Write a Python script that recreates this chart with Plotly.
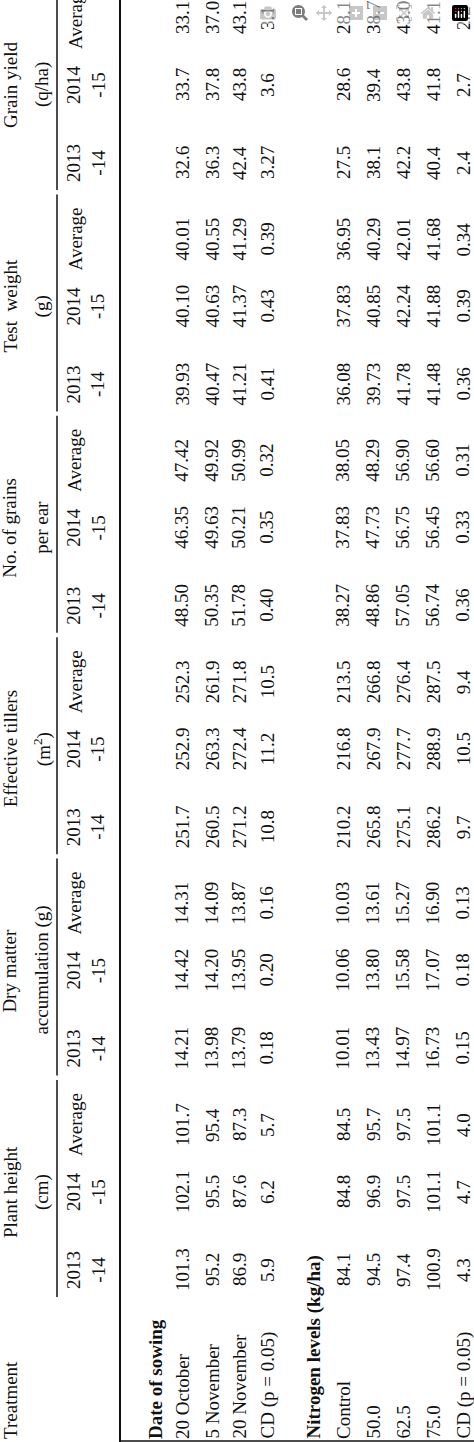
import plotly.graph_objects as go

W, H = 474, 1442

treatments = ["20 October", "5 November", "20 November", "CD (p = 0.05)",
              "Control", "50.0", "62.5", "75.0", "CD (p = 0.05)"]
sections = ["Date of sowing", "Nitrogen levels (kg/ha)"]
years = ["2013<br>-14", "2014<br>-15", "Average"]

group_titles = ["Plant height", "Dry matter", "Effective tillers",
                "No. of grains", "Test  weight", "Grain yield"]
group_units = ["(cm)", "accumulation (g)", "(m<sup>2</sup>)",
               "per ear", "(g)", "(q/ha)"]

plant_height = [
    ["101.3", "95.2", "86.9", "5.9", "84.1", "94.5", "97.4", "100.9", "4.3"],
    ["102.1", "95.5", "87.6", "6.2", "84.8", "96.9", "97.5", "101.1", "4.7"],
    ["101.7", "95.4", "87.3", "5.7", "84.5", "95.7", "97.5", "101.1", "4.0"],
]
dry_matter = [
    ["14.21", "13.98", "13.79", "0.18", "10.01", "13.43", "14.97", "16.73", "0.15"],
    ["14.42", "14.20", "13.95", "0.20", "10.06", "13.80", "15.58", "17.07", "0.18"],
    ["14.31", "14.09", "13.87", "0.16", "10.03", "13.61", "15.27", "16.90", "0.13"],
]
tillers = [
    ["251.7", "260.5", "271.2", "10.8", "210.2", "265.8", "275.1", "286.2", "9.7"],
    ["252.9", "263.3", "272.4", "11.2", "216.8", "267.9", "277.7", "288.9", "10.5"],
    ["252.3", "261.9", "271.8", "10.5", "213.5", "266.8", "276.4", "287.5", "9.4"],
]
grains = [
    ["48.50", "50.35", "51.78", "0.40", "38.27", "48.86", "57.05", "56.74", "0.36"],
    ["46.35", "49.63", "50.21", "0.35", "37.83", "47.73", "56.75", "56.45", "0.33"],
    ["47.42", "49.92", "50.99", "0.32", "38.05", "48.29", "56.90", "56.60", "0.31"],
]
test_weight = [
    ["39.93", "40.47", "41.21", "0.41", "36.08", "39.73", "41.78", "41.48", "0.36"],
    ["40.10", "40.63", "41.37", "0.43", "37.83", "40.85", "42.24", "41.88", "0.39"],
    ["40.01", "40.55", "41.29", "0.39", "36.95", "40.29", "42.01", "41.68", "0.34"],
]
grain_yield = [
    ["32.6", "36.3", "42.4", "3.27", "27.5", "38.1", "42.2", "40.4", "2.4"],
    ["33.7", "37.8", "43.8", "3.6", "28.6", "39.4", "43.8", "41.8", "2.7"],
    ["33.1", "37.0", "43.1", "3.1", "28.1", "38.7", "43.0", "41.1", "2.2"],
]
groups = [plant_height, dry_matter, tillers, grains, test_weight, grain_yield]

# layout (table is rotated: rows run left->right, columns bottom->top)
FONT = "Liberation Serif"
FS = 19
row_x = [182, 212, 239, 267, 343, 373, 403, 433, 463]
section_x = [155, 313]
col_offset = [0, -78, -145]
group_base = [1270 - 221.4 * i for i in range(len(groups))]

fig = go.Figure()
ann = []

def put(x, y, text, yanchor="middle", bold=False):
    ann.append(dict(x=x, y=y, text=f"<b>{text}</b>" if bold else text,
                    textangle=-90, showarrow=False, xanchor="center",
                    yanchor=yanchor, font=dict(family=FONT, size=FS, color="#111")))

put(10, 1441, "Treatment", yanchor="bottom")
for s, x in zip(sections, section_x):
    put(x, 1441, s, yanchor="bottom", bold=True)
for t, x in zip(treatments, row_x):
    put(x, 1441, t, yanchor="bottom")

shapes = []
for gi, data in enumerate(groups):
    base = group_base[gi]
    put(10, base - 78, group_titles[gi])
    put(42, base - 78, group_units[gi])
    for ci, col in enumerate(data):
        y = base + col_offset[ci]
        put(75 if ci == 2 else 86, y, years[ci])
        for v, x in zip(col, row_x):
            put(x, y, v)
    shapes.append(dict(type="line", x0=57, x1=57, y0=base + 27, y1=base - 190,
                       line=dict(color="#111", width=1.5)))

shapes.append(dict(type="line", x0=120, x1=120, y0=0, y1=H, line=dict(color="#111", width=2)))
shapes.append(dict(type="line", x0=120, x1=W, y0=H - 1, y1=H - 1, line=dict(color="#111", width=1.5)))

fig.update_layout(width=W, height=H, margin=dict(l=0, r=0, t=0, b=0),
                  plot_bgcolor="white", paper_bgcolor="white",
                  annotations=ann, shapes=shapes, showlegend=False,
                  xaxis=dict(range=[0, W], visible=False),
                  yaxis=dict(range=[H, 0], visible=False))
fig.write_html("out.html",
               post_script="document.body.style.margin='0';document.body.style.overflow='hidden';")
